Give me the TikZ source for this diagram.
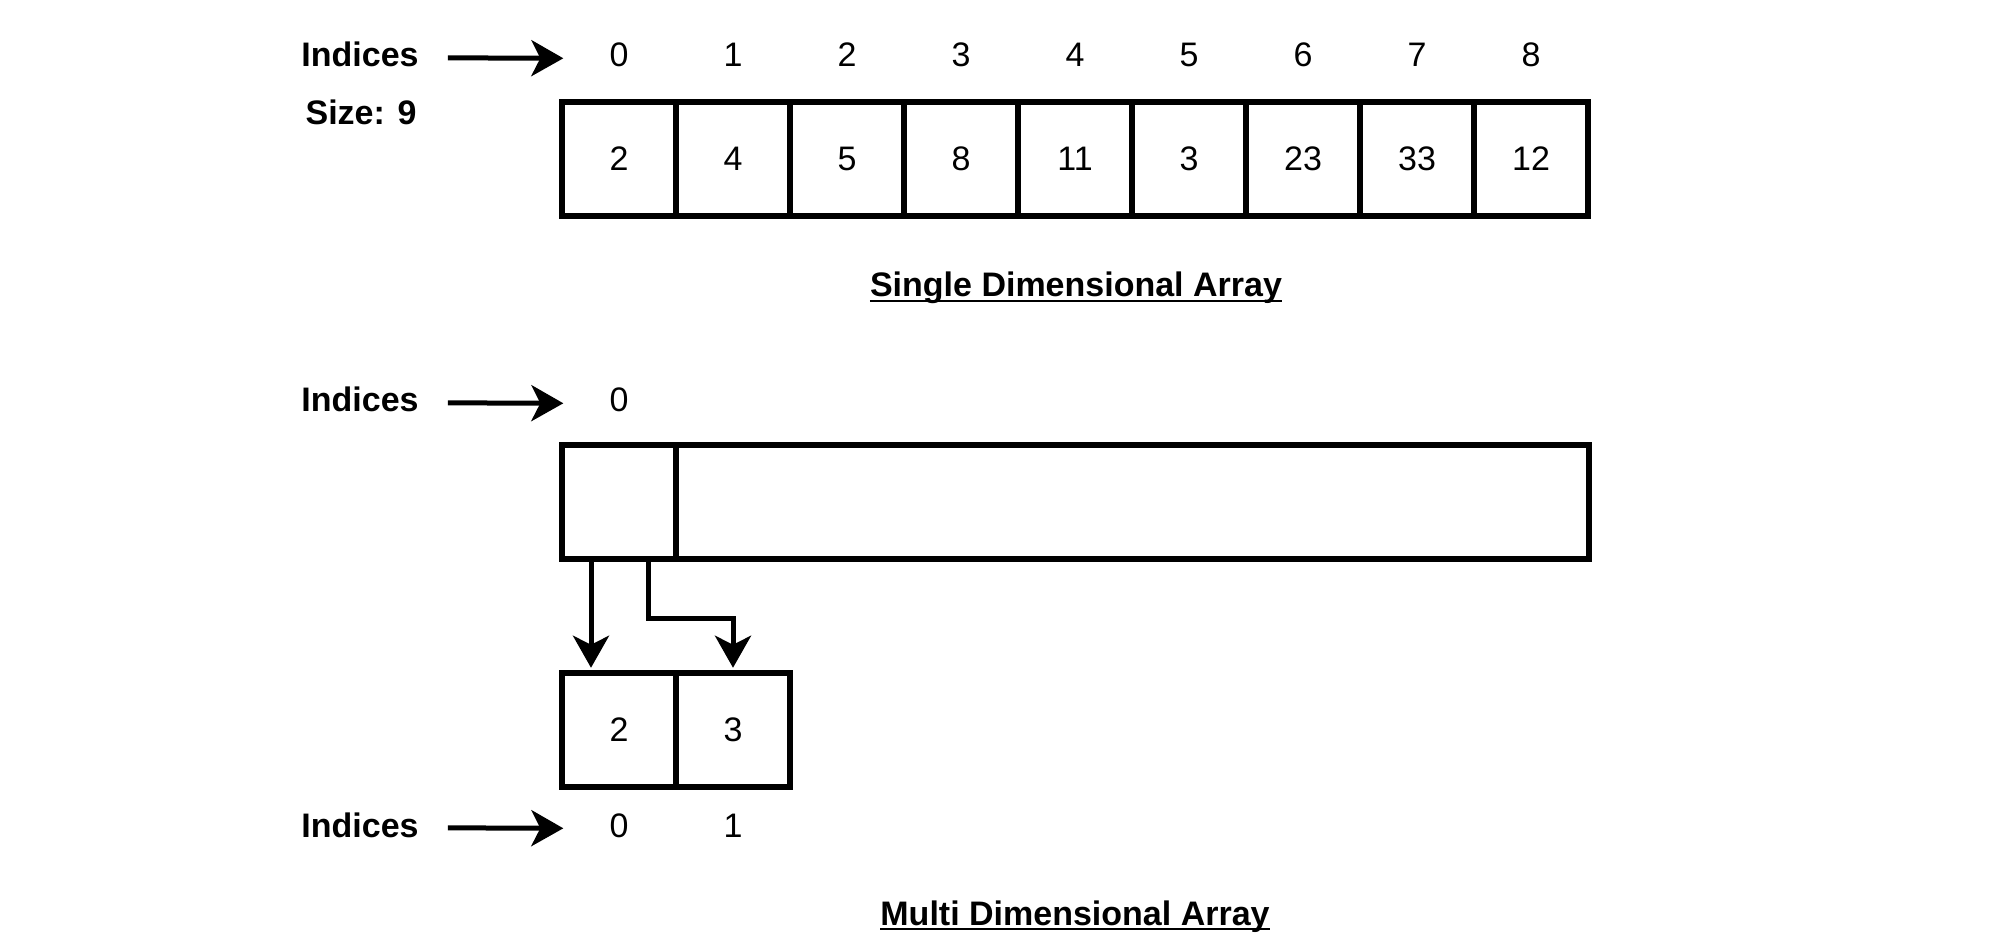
\documentclass[tikz,border=0pt]{standalone}
\usepackage{fontspec}
\setmainfont{Liberation Sans}
\usetikzlibrary{arrows.meta}
\begin{document}
\begin{tikzpicture}[x=1pt,y=-1pt,
  lbl/.style={font=\fontsize{34}{40}\selectfont\bfseries, inner sep=0pt, anchor=base},
  num/.style={font=\fontsize{34}{40}\selectfont, inner sep=0pt, anchor=base},
  cell/.style={draw, line width=5.5pt, minimum width=114pt, minimum height=114pt, inner sep=0pt, font=\fontsize{34}{40}\selectfont},
  arr/.style={line width=5pt, -{Stealth[length=32pt,width=36pt,inset=9pt]}},
  uline/.style={line width=2.5pt}]
\fill[white,use as bounding box] (0,0) rectangle (2000,949);

% ---------- single dimensional ----------
\node[lbl] (ia) at (360,67) {Indices};
\node[lbl] (sz) at (361,125) {Size: 9};
\foreach \v [count=\i from 0] in {2,4,5,8,11,3,23,33,12} {
  \node[num] (a\i) at (619+114*\i,67) {\i};
  \node[cell] (c\i) at (619+114*\i,159) {\v};
}
\draw[arr] ([xshift=29pt,yshift=-3pt]ia.east) -- ([xshift=-46pt,yshift=-3pt]a0.west);
\node[lbl] (t1) at (1076,297) {Single Dimensional Array};
\draw[uline] ([yshift=-4pt]t1.base west) -- ([yshift=-4pt]t1.base east);

% ---------- multi dimensional ----------
\node[lbl] (ib) at (360,412) {Indices};
\node[num] (b0) at (619,412) {0};
\draw[arr] ([xshift=29pt,yshift=-3pt]ib.east) -- ([xshift=-46pt,yshift=-3pt]b0.west);
\node[cell] (m0) at (619,502) {};
\node[cell, minimum width=913pt] (mr) at (1132.5,502) {};

\node[cell] (s0) at (619,730) {2};
\node[cell] (s1) at (733,730) {3};
\draw[arr] ([xshift=-28pt]m0.south) -- ([xshift=-28pt,yshift=2.5pt]s0.north);
\draw[arr] ([xshift=29pt]m0.south) -- ++(0,57) -| ([yshift=2.5pt]s1.north);

\node[lbl] (ic) at (360,837) {Indices};
\node[num] (d0) at (619,837) {0};
\node[num] (d1) at (733,837) {1};
\draw[arr] ([xshift=29pt,yshift=-3pt]ic.east) -- ([xshift=-46pt,yshift=-3pt]d0.west);

\node[lbl] (t2) at (1075,925) {Multi Dimensional Array};
\draw[uline] ([yshift=-4pt]t2.base west) -- ([yshift=-4pt]t2.base east);
\end{tikzpicture}
\end{document}
